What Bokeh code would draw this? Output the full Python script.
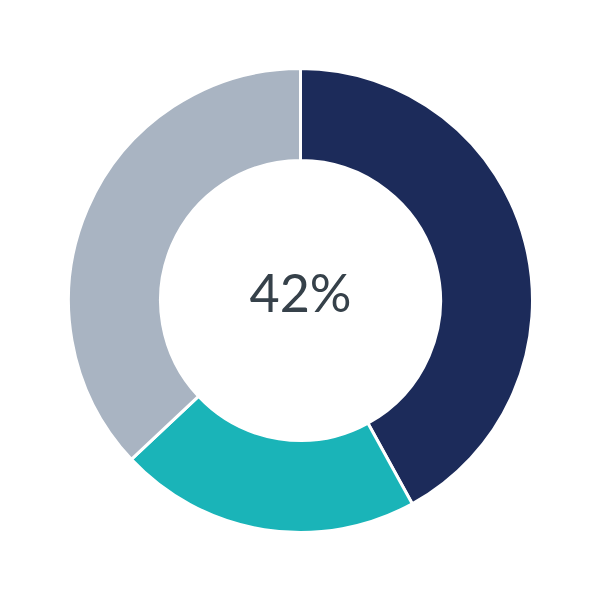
import numpy as np
from bokeh.plotting import figure
from bokeh.models import ColumnDataSource, Range1d
from bokeh.core.properties import value
from bokeh.embed import file_html
from bokeh.resources import INLINE

categories = ["A", "B", "C"]
values = [42, 21, 37]
colors = ["#1c2b5a", "#1ab4b8", "#a9b4c2"]
center_label = "42%"

vals = np.array(values, dtype=float)
frac = vals / vals.sum()
cum = np.concatenate([[0], np.cumsum(frac)])
start = np.pi / 2 - cum[:-1] * 2 * np.pi
end = np.pi / 2 - cum[1:] * 2 * np.pi

src = ColumnDataSource(dict(cat=categories, start=start, end=end, color=colors))

W = 600
p = figure(width=W, height=W, output_backend="svg", toolbar_location=None,
           x_range=Range1d(-W / 2, W / 2), y_range=Range1d(-W / 2, W / 2),
           min_border=0)
p.axis.visible = False
p.grid.visible = False
p.outline_line_color = None
p.background_fill_color = "white"
p.border_fill_color = "white"

p.annular_wedge(x=0, y=0, inner_radius=140, outer_radius=232,
                start_angle="start", end_angle="end", direction="clock",
                fill_color="color", line_color="white", line_width=3, source=src)

p.text(x=[0], y=[9], text=[center_label], text_align="center", text_baseline="middle",
       text_font=value("Lato"), text_font_size="52px", text_color="#36414a")

open("out.html", "w").write(file_html(p, INLINE))
